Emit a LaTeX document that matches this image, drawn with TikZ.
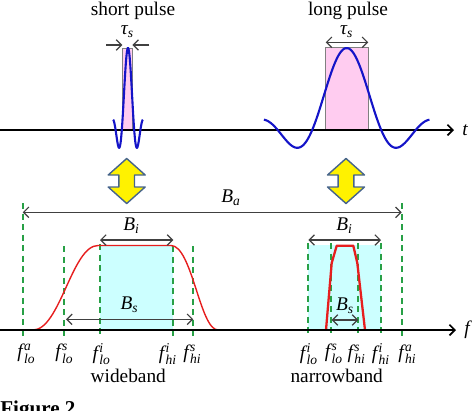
\documentclass[tikz,border=0pt]{standalone}
\usepackage{fontspec}
\setmainfont{Liberation Serif}
\usepackage{amsmath}
\usepackage{tikz}
\usetikzlibrary{arrows.meta, positioning, calc}

\definecolor{pulseblue}{RGB}{20,20,200}
\definecolor{pinkfill}{RGB}{255,204,240}
\definecolor{cyanfill}{RGB}{204,255,255}
\definecolor{dashgreen}{RGB}{40,160,70}
\definecolor{bandred}{RGB}{230,30,30}
\definecolor{yedge}{RGB}{70,100,140}

\tikzstyle{axis} = [line width=1pt, -{Straight Barb[length=3pt,width=6pt]}]
\tikzstyle{dim} = [line width=0.7pt, draw=black!75, {Straight Barb[length=3pt,width=6pt]}-{Straight Barb[length=3pt,width=6pt]}]
\tikzstyle{dimto} = [line width=0.7pt, draw=black!75, -{Straight Barb[length=3pt,width=6pt]}]
\tikzstyle{fline} = [draw=dashgreen, line width=1pt, dash pattern=on 3.5pt off 2.5pt]
\tikzstyle{pulse} = [draw=pulseblue, line width=1.2pt]
\tikzstyle{lbl} = [font=\fontsize{11}{13}\selectfont]
\tikzstyle{ticklbl} = [lbl, inner sep=0.3pt]
\tikzstyle{yarrow} = [fill=yellow, draw=yedge, line width=0.8pt, line join=round]
\newcommand{\fqlabel}[2]{$\textit{f}\kern0.8pt{}^{\textit{#2}}_{\textit{#1}}$}

\begin{document}
\begin{tikzpicture}[x=0.02cm, y=-0.02cm]
  \useasboundingbox (0,0) rectangle (474,410);
  \clip (0,0) rectangle (474,410);

  % time domain
  \node[lbl] (shortlbl) at (133,11) {short pulse};
  \node[lbl] (longlbl) at (348,11) {long pulse};
  \fill[pinkfill, draw=gray] (122.3,48.3) rectangle (132.3,130);
  \fill[pinkfill, draw=gray] (325.7,47.7) rectangle (368.3,130);
  \coordinate (t0) at (0,130);
  \coordinate (t1) at (454,130);
  \draw[axis] (t0) -- (t1) node[lbl, right=1pt] (tlbl) {\textit{t}};
  \draw[pulse] plot[domain=-2.4:2.4, samples=121, smooth] ({128+6.2*\x}, {130-82*sin(180*\x)/(pi*\x)});
  \draw[pulse] plot[domain=-2.4:2.4, samples=121, smooth] ({346.7+34.5*\x}, {130-82*sin(180*\x)/(pi*\x)});

  % pulse widths
  \coordinate (sa0) at (106,45);   \coordinate (sa1) at (122.3,45);
  \coordinate (sb0) at (149.3,45); \coordinate (sb1) at (132.3,45);
  \draw[dimto] (sa0) -- (sa1);
  \draw[dimto] (sb0) -- (sb1);
  \node[lbl] (taus1) at (127.5,31.5) {$\textit{τ}_{\textit{s}}$};
  \coordinate (la0) at (325.7,42.3); \coordinate (la1) at (368.3,42.3);
  \draw[dim] (la0) -- (la1);
  \node[lbl] (taus2) at (346.7,31.5) {$\textit{τ}_{\textit{s}}$};

  % yellow arrows
  \foreach \cx in {126.7, 346} {
    \draw[yarrow] (\cx,158.5) -- (\cx+18.5,175) -- (\cx+7.8,175) -- (\cx+7.8,187)
      -- (\cx+18.5,187) -- (\cx,203.5) -- (\cx-18.5,187) -- (\cx-7.8,187)
      -- (\cx-7.8,175) -- (\cx-18.5,175) -- cycle;
  }

  % frequency domain
  \fill[cyanfill] (100,245.7) rectangle (173.3,330);
  \fill[cyanfill] (308.3,245) rectangle (381,330);
  \foreach \n/\xx/\top in {wloa/22.7/203, wlos/64.3/246, wloi/100/244, whii/173.3/246, whis/193.3/246,
      nloi/308.3/243, nlos/331/243, nhis/358.3/243, nhii/381/243, nhia/401.7/203} {
    \coordinate (\n) at (\xx,330);
    \draw[fline] (\xx,\top) -- (\xx,337);
  }
  \draw[bandred, line width=0.8pt] (30,330) -- (33,330) .. controls (60,330) and (72,245.5) .. (98,245.5)
    -- (171,245.5) .. controls (192,245.5) and (200,330) .. (218,330);
  \draw[bandred, line width=1.3pt, line join=round] (326,330) -- (331.7,263) -- (336.7,245.7)
    -- (353.3,245.7) -- (357.3,263) -- (365,330);
  \coordinate (f0) at (0,330);
  \coordinate (f1) at (456,330);
  \draw[axis] (f0) -- (f1) node[lbl, right=1pt] (flbl) {\textit{f}};

  % bandwidths
  \coordinate (ba0) at (22.7,212.3); \coordinate (ba1) at (401.7,212.3);
  \draw[dim] (ba0) -- node[lbl, above, pos=0.55] (Ba) {$\textit{B}_{\textit{a}}$} (ba1);
  \coordinate (bi0) at (100,240); \coordinate (bi1) at (173.3,240);
  \draw[dim] (bi0) -- node[lbl, above, pos=0.43] (Bi1) {$\textit{B}_{\textit{i}}$} (bi1);
  \coordinate (bs0) at (66,319.3); \coordinate (bs1) at (193.3,319.3);
  \draw[dim] (bs0) -- node[lbl, above] (Bs1) {$\textit{B}_{\textit{s}}$} (bs1);
  \coordinate (ni0) at (308.3,240); \coordinate (ni1) at (381,240);
  \draw[dim] (ni0) -- node[lbl, above] (Bi2) {$\textit{B}_{\textit{i}}$} (ni1);
  \coordinate (ns0) at (331.7,320); \coordinate (ns1) at (358.3,320);
  \draw[dim] (ns0) -- node[lbl, above] (Bs2) {$\textit{B}_{\textit{s}}$} (ns1);

  % frequency labels
  \foreach \n/\xx/\sub/\sup in {wloa/26.5/lo/a, wlos/64.5/lo/s, wloi/101.7/lo/i, whii/168/hi/i, whis/192.5/hi/s,
      nloi/309/lo/i, nlos/334/lo/s, nhis/356.7/hi/s, nhii/381/hi/i, nhia/407.5/hi/a} {
    \node[ticklbl] (l\n) at (\xx,354) {\fqlabel{\sub}{\sup}};
  }
  \node[ticklbl] (wide) at (128.3,376) {wideband};
  \node[ticklbl] (narrow) at (336.7,376) {narrowband};
  \node[anchor=north west, inner sep=0pt, font=\bfseries\fontsize{12}{14}\selectfont] (fig) at (0,400.5) {Figure 2};
\end{tikzpicture}
\end{document}
